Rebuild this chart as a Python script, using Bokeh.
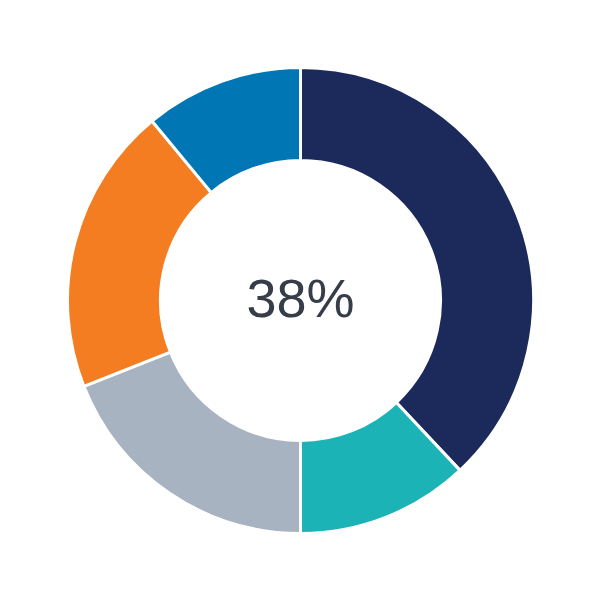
import numpy as np
from bokeh.plotting import figure
from bokeh.models import Range1d, ColumnDataSource
from bokeh.core.properties import value
from bokeh.embed import file_html
from bokeh.resources import INLINE

# slices, clockwise from 12 o'clock
segments = ["A", "B", "C", "D", "E"]
shares = [38, 12, 19, 20, 11]
colors = ["#1b2a5a", "#1bb3b6", "#a8b3c1", "#f37d20", "#0077b4"]
center_label = "%d%%" % shares[0]

frac = np.array(shares, dtype=float) / sum(shares)
cum = np.concatenate([[0.0], np.cumsum(frac)])
# bokeh angles run counter-clockwise from +x, so go clockwise from pi/2
start = np.pi / 2 - 2 * np.pi * cum[:-1]
end = np.pi / 2 - 2 * np.pi * cum[1:]

source = ColumnDataSource(dict(seg=segments, start=start, end=end, color=colors))

p = figure(width=584, height=584, output_backend="svg", toolbar_location=None,
           x_range=Range1d(-300, 284), y_range=Range1d(-284, 300),
           min_border=0)
p.axis.visible = False
p.grid.grid_line_color = None
p.outline_line_color = None

p.annular_wedge(x=0, y=0, inner_radius=140, outer_radius=233,
                start_angle='start', end_angle='end', direction='clock',
                fill_color='color', line_color='white', line_width=3,
                source=source)

p.text(x=[0], y=[3], text=[center_label], text_align='center',
       text_baseline='middle', text_font=value("Liberation Sans"),
       text_font_size='54px', text_color='#363d48')

open("out.html", "w").write(file_html(p, INLINE))
